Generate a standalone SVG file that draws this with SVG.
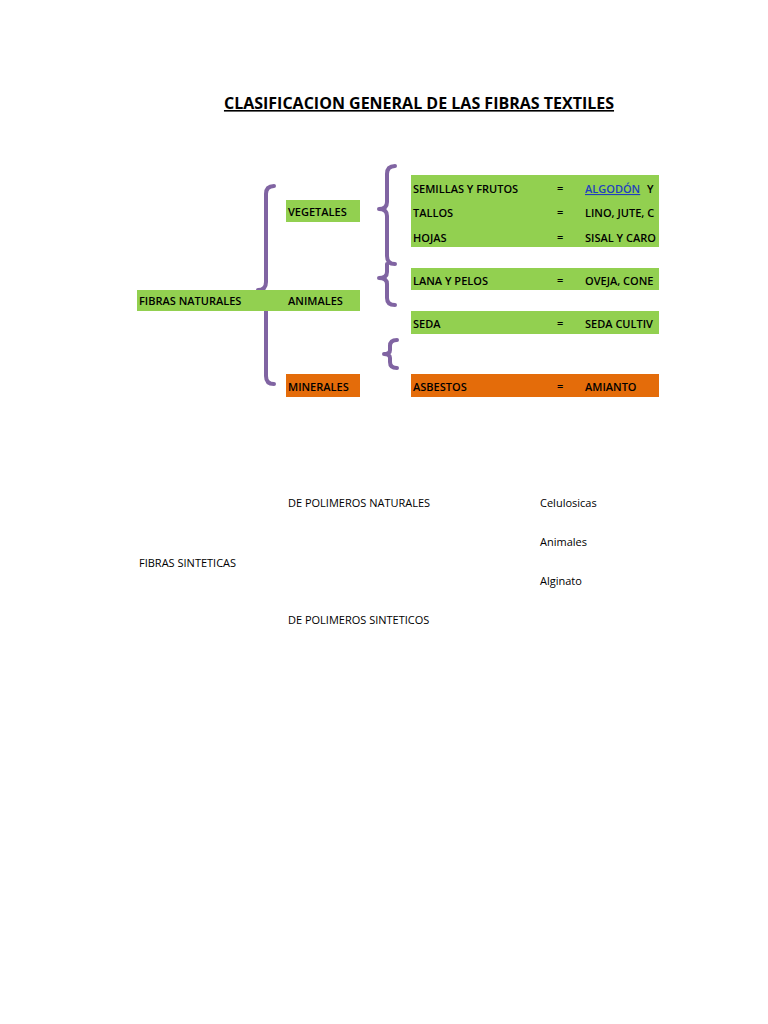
<svg xmlns="http://www.w3.org/2000/svg" width="768" height="1024" viewBox="0 0 768 1024">
<style>
text{font-family:"Open Sans","Liberation Sans",sans-serif;font-size:11px;font-weight:600;fill:#000}
.g{fill:#92d050}.o{fill:#e46c0a}
.br{fill:none;stroke:#8064a2;stroke-width:4;stroke-linecap:round;stroke-linejoin:round}
.t{font-size:16px;font-weight:700;text-decoration:underline}
</style>
<rect width="768" height="1024" fill="#fff"/>
<text class="t" x="419" y="109" text-anchor="middle">CLASIFICACION GENERAL DE LAS FIBRAS TEXTILES</text>
<g id="connectors">
<path class="br" d="M274,186 Q266,186 266,194 V282 Q266,290 258,290 Q266,290 266,298 V376 Q266,384 274,384"/>
<path class="br" d="M395,166 Q387,166 387,174 V202 Q387,209 379,209 Q387,209 387,216 V256 Q387,264 395,264"/>
<path class="br" d="M387,264 V272 Q387,278 379,278 Q387,278 387,284 V298 Q387,305 395,305"/>
<path class="br" d="M397,340 Q390,340 390,346 V350 Q390,354 384,354 Q390,354 390,358 V362 Q390,368 397,368"/>
</g>
<g id="fibras-naturales"><rect class="g" x="137" y="290" width="223" height="21"/><text x="139" y="305">FIBRAS NATURALES</text></g>
<g id="animales"><text x="288" y="305">ANIMALES</text></g>
<g id="vegetales"><rect class="g" x="286" y="200" width="74" height="22"/><text x="288" y="216">VEGETALES</text></g>
<g id="minerales"><rect class="o" x="286" y="374" width="74" height="23"/><text x="288" y="391">MINERALES</text></g>
<g id="vegetal-list"><rect class="g" x="411" y="175" width="248" height="72"/>
<text x="413" y="193">SEMILLAS Y FRUTOS</text><text x="557" y="192">=</text><text x="585" y="193" fill="#0033cc" style="fill:#1f3fbf;text-decoration:underline">ALGODÓN </text><text x="647" y="193">Y</text>
<text x="413" y="217">TALLOS</text><text x="557" y="216">=</text><text x="585" y="217">LINO, JUTE, C</text>
<text x="413" y="242">HOJAS</text><text x="557" y="241">=</text><text x="585" y="242">SISAL Y CARO</text></g>
<g id="lana"><rect class="g" x="411" y="268" width="248" height="22"/><text x="413" y="285">LANA Y PELOS</text><text x="557" y="284">=</text><text x="585" y="285">OVEJA, CONE</text></g>
<g id="seda"><rect class="g" x="411" y="311" width="248" height="23"/><text x="413" y="328">SEDA</text><text x="557" y="327">=</text><text x="585" y="328">SEDA CULTIV</text></g>
<g id="asbestos"><rect class="o" x="411" y="374" width="248" height="23"/><text x="413" y="391">ASBESTOS</text><text x="557" y="390">=</text><text x="585" y="391">AMIANTO</text></g>
<g id="sinteticas"><text x="139" y="567" style="font-weight:400">FIBRAS SINTETICAS</text></g>
<g id="pol-nat"><text x="288" y="507" style="font-weight:400">DE POLIMEROS NATURALES</text></g>
<g id="pol-sin"><text x="288" y="624" style="font-weight:400">DE POLIMEROS SINTETICOS</text></g>
<g id="celulosicas"><text x="540" y="507" style="font-weight:400">Celulosicas</text></g>
<g id="animales2"><text x="540" y="546" style="font-weight:400">Animales</text></g>
<g id="alginato"><text x="540" y="585" style="font-weight:400">Alginato</text></g>
</svg>
